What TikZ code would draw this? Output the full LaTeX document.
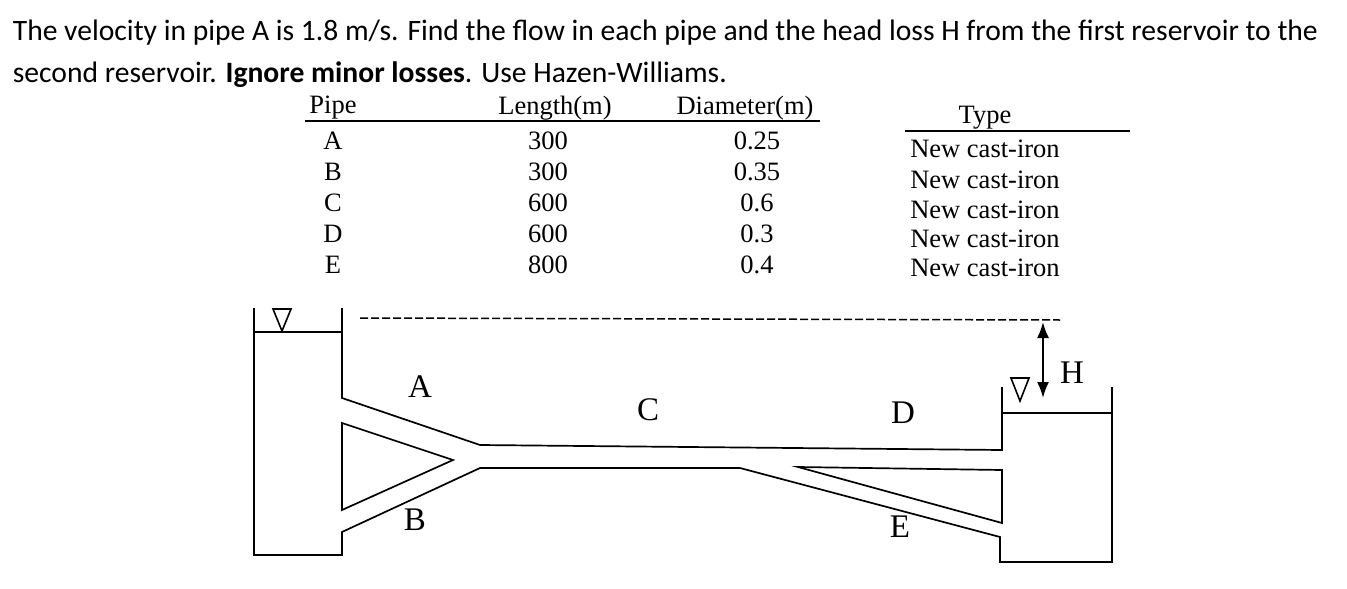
\documentclass[tikz,border=0pt]{standalone}
\usepackage{fontspec}
\usetikzlibrary{arrows.meta}
\setmainfont{Liberation Serif}
\newfontfamily\carl{Carlito}
\begin{document}
\begin{tikzpicture}[x=1pt,y=-1pt,line width=1.7pt,
  lbl/.style={font=\fontsize{33}{33}\selectfont,inner sep=0},
  tb/.style={font=\fontsize{26.5}{26.5}\selectfont,inner sep=0},
  wl/.style={line width=1.6pt}]
\useasboundingbox (0,0) rectangle (1347,589);
\node[anchor=west,inner sep=0,font=\carl\fontsize{29.6}{29.6}\selectfont] (l1) at (12,33) {The velocity in pipe A is 1.8 m/s. Find the flow in each pipe and the head loss H from the first reservoir to the};
\node[anchor=west,inner sep=0,font=\carl\fontsize{29.6}{29.6}\selectfont] (l2) at (12,75) {second reservoir. \textbf{Ignore minor losses}. Use Hazen-Williams.};
% table
\foreach \n/\x/\t in {p/333/Pipe,l/555/Length(m),d/745/Diameter(m)} \node[tb] (h\n) at (\x,108) {\t};
\node[tb] (ht) at (985,118) {Type};
\draw[line width=1.2pt] (305,121) -- (820,121);
\draw[line width=1.2pt] (905,131) -- (1130,131);
\foreach \i/\p/\D/\ty [count=\k] in {A/300/0.25/149,B/300/0.35/180,C/600/0.6/210,D/600/0.3/239,E/800/0.4/268}{
  \pgfmathsetmacro\yy{141+31*(\k-1)}
  \node[tb] (r\k a) at (333,\yy) {\i};
  \node[tb] (r\k b) at (548,\yy) {\p};
  \node[tb] (r\k c) at (757,\yy) {\D};
  \node[tb] (r\k d) at (985,\ty) {New cast-iron};
}
% reservoirs and pipes
\draw (254,308) -- (254,555) -- (342,555) -- (342,532) -- (480,468) -- (740,468) -- (1000,537) -- (1000,562) -- (1112,562) -- (1112,387);
\draw (342,308) -- (342,398) -- (480,445) -- (1002,450) -- (1002,387);
\draw (254,332) -- (342,332);
\draw (1002,413) -- (1112,413);
\draw (342,423) -- (453,460) -- (342,510) -- cycle;
\draw (798,467) -- (1002,470) -- (1002,523) -- cycle;
% water symbols
\draw[wl] (273,309) -- (291,309) -- (282,331) -- cycle;
\draw[wl] (1011,378) -- (1029,378) -- (1020,401) -- cycle;
\draw[line width=1.5pt,dash pattern=on 8pt off 3pt] (360,318) -- (1060,320);
\coordinate (ht1) at (1043,322); \coordinate (ht2) at (1043,398);
\draw[line width=2pt,{Latex[length=16pt,width=12pt]}-{Latex[length=16pt,width=12pt]}] (ht1) -- (ht2);
\node[lbl] (H) at (1072,373) {H};
\node[lbl] (A) at (420,387) {A};
\node[lbl] (B) at (415,520) {B};
\node[lbl] (C) at (648,410) {C};
\node[lbl] (D) at (903,413) {D};
\node[lbl] (E) at (900,527) {E};
\end{tikzpicture}
\end{document}
